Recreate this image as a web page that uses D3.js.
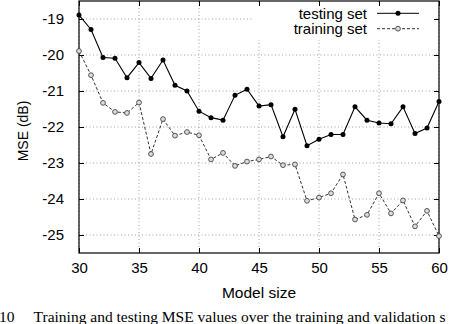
<!DOCTYPE html>
<html><head><meta charset="utf-8">
<script src="https://cdn.jsdelivr.net/npm/d3@7"></script>
<style>body{margin:0;background:#fff;}svg{display:block;}</style>
</head><body>
<svg id="c" width="474" height="324"></svg>
<script>
const modelSize = d3.range(30, 61);
const testing = [-18.89,-19.29,-20.07,-20.09,-20.63,-20.21,-20.65,-20.14,-20.84,-21.0,
  -21.56,-21.74,-21.81,-21.12,-20.95,-21.42,-21.38,-22.27,-21.51,-22.52,
  -22.34,-22.21,-22.21,-21.44,-21.81,-21.89,-21.91,-21.44,-22.18,-22.03,-21.29];
const training = [-19.89,-20.56,-21.33,-21.58,-21.61,-21.32,-22.75,-21.78,-22.24,-22.14,
  -22.23,-22.90,-22.72,-23.08,-22.96,-22.90,-22.82,-23.06,-23.04,-24.05,
  -23.96,-23.84,-23.32,-24.57,-24.44,-23.84,-24.40,-24.04,-24.76,-24.33,-25.03];
const xTicks = [30,35,40,45,50,55,60];
const yTicks = [-19,-20,-21,-22,-23,-24,-25];
const seriesNames = ["testing set","training set"];
const xLabel = "Model size", yLabel = "MSE (dB)";
const caption = "10     Training and testing MSE values over the training and validation s";

const svg = d3.select("#c");
const L = 79, R = 439, T = 1, B = 253;
const x = d3.scaleLinear().domain([30,60]).range([L,R]);
const y = d3.scaleLinear().domain([-25.5,-18.5]).range([B,T]);
const font = "'Liberation Sans', Arial, Helvetica, sans-serif";

// grid
const grid = svg.append("g").attr("stroke","#888").attr("stroke-width",0.8).attr("stroke-dasharray","1,2.5");
xTicks.forEach(t => grid.append("line").attr("x1",x(t)).attr("x2",x(t)).attr("y1",T).attr("y2",B));
yTicks.forEach(t => grid.append("line").attr("x1",L).attr("x2",R).attr("y1",y(t)).attr("y2",y(t)));

// legend background
svg.append("rect").attr("x",252).attr("y",T+1).attr("width",182).attr("height",38).attr("fill","#fff");

// axes with inward ticks
const gx = svg.append("g").attr("transform",`translate(0,${B})`)
  .call(d3.axisBottom(x).tickValues(xTicks).tickSizeInner(-5).tickSizeOuter(0).tickPadding(9).tickFormat(d=>String(d)));
const gxt = svg.append("g").attr("transform",`translate(0,${T})`)
  .call(d3.axisTop(x).tickValues(xTicks).tickSizeInner(-5).tickSizeOuter(0).tickFormat(""));
const gy = svg.append("g").attr("transform",`translate(${L},0)`)
  .call(d3.axisLeft(y).tickValues(yTicks).tickSizeInner(-5).tickSizeOuter(0).tickPadding(15).tickFormat(d=>String(d)));
const gyr = svg.append("g").attr("transform",`translate(${R},0)`)
  .call(d3.axisRight(y).tickValues(yTicks).tickSizeInner(-5).tickSizeOuter(0).tickFormat(""));
[gx,gxt,gy,gyr].forEach(g=>{
  g.select(".domain").remove();
  g.selectAll("line").attr("stroke","#000");
  g.selectAll("text").attr("font-family",font).attr("font-size",15).attr("fill","#000");
});
gx.selectAll("text").attr("dy","0.71em");

// frame
svg.append("rect").attr("x",L).attr("y",T).attr("width",R-L).attr("height",B-T)
  .attr("fill","none").attr("stroke","#000").attr("stroke-width",1.2);

// lines
const lineT = d3.line().x((d,i)=>x(modelSize[i])).y(d=>y(d));
svg.append("path").datum(training).attr("d",lineT).attr("fill","none")
  .attr("stroke","#333").attr("stroke-width",1).attr("stroke-dasharray","3,2");
svg.append("path").datum(testing).attr("d",lineT).attr("fill","none")
  .attr("stroke","#000").attr("stroke-width",1.1);
svg.append("g").selectAll("circle").data(training).join("circle")
  .attr("cx",(d,i)=>x(modelSize[i])).attr("cy",d=>y(d)).attr("r",2.4)
  .attr("fill","#ddd").attr("stroke","#444").attr("stroke-width",0.9);
svg.append("g").selectAll("circle").data(testing).join("circle")
  .attr("cx",(d,i)=>x(modelSize[i])).attr("cy",d=>y(d)).attr("r",2.5)
  .attr("fill","#000");

// legend
const lg = svg.append("g").attr("font-family",font).attr("font-size",15);
[0,1].forEach(i=>{
  const ly = 13.3 + i*15.4;
  lg.append("text").attr("x",367).attr("y",ly).attr("dy","0.35em").attr("text-anchor","end").text(seriesNames[i]);
  lg.append("line").attr("x1",377).attr("x2",419).attr("y1",ly).attr("y2",ly)
    .attr("stroke", i?"#333":"#000").attr("stroke-dasharray", i?"3,2":null);
  if(i) lg.append("circle").attr("cx",398).attr("cy",ly).attr("r",2.4).attr("fill","#ddd").attr("stroke","#444").attr("stroke-width",0.9);
  else lg.append("circle").attr("cx",398).attr("cy",ly).attr("r",2.5).attr("fill","#000");
});

// axis labels
svg.append("text").attr("x",(L+R)/2).attr("y",298).attr("text-anchor","middle")
  .attr("font-family",font).attr("font-size",15.5).text(xLabel);
svg.append("text").attr("transform",`translate(28,${131}) rotate(-90)`).attr("text-anchor","middle")
  .attr("font-family",font).attr("font-size",14).text(yLabel);

// caption (partly cut off at bottom, as in the source)
svg.append("text").attr("x",-1).attr("y",322).attr("font-family","'Liberation Serif', 'Times New Roman', serif")
  .attr("font-size",15.5).style("white-space","pre").text(caption);
</script>
</body></html>
